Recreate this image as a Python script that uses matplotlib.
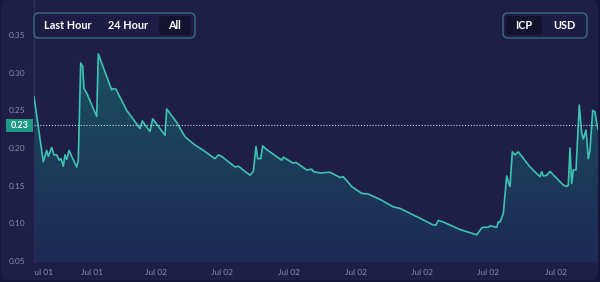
import numpy as np
import matplotlib
matplotlib.use('Agg')
import matplotlib.pyplot as plt
from matplotlib.patches import FancyBboxPatch, Rectangle
from matplotlib.transforms import IdentityTransform, Bbox
from matplotlib.colors import LinearSegmentedColormap

# price history (time in chart units, ICP price)
t = [0, 9.3, 12.7, 14.3, 17.7, 20, 22.7, 25.3, 27, 29.3, 31, 32.7, 35, 37.7, 42.7, 44.3,
     46.7, 48.7, 50, 52.7, 62.7, 64.3, 77.7, 79.3, 82, 92.7, 106, 108.3, 111, 116, 118.7,
     131, 132.7, 142.7, 151, 161, 166, 169.3, 181, 184.3, 187.7, 201, 204.3, 216, 219.3,
     222, 223.7, 226.7, 228.7, 232.7, 247.7, 249.3, 259.3, 262, 272.7, 277.7, 279.3, 286,
     296, 306, 309.3, 317.7, 327.7, 334.3, 346, 359.3, 366, 386, 399.3, 402, 404.3, 409.3,
     422.7, 426, 442.7, 447.7, 449.3, 454.3, 456, 462.7, 464.3, 466, 469.3, 472.7, 474.3,
     476, 478.3, 481, 484.3, 496, 506, 507.7, 509.3, 512.7, 516, 529.3, 532.7, 534.3, 536,
     537.7, 539.3, 542, 545.3, 547.7, 549.3, 552, 554.3, 556, 558.7, 561, 562.7, 564]
price = [0.268, 0.182, 0.197, 0.189, 0.201, 0.191, 0.191, 0.184, 0.186, 0.176, 0.191, 0.185,
         0.197, 0.189, 0.175, 0.184, 0.313, 0.308, 0.279, 0.273, 0.242, 0.325, 0.277, 0.279,
         0.278, 0.250, 0.226, 0.236, 0.231, 0.222, 0.239, 0.217, 0.252, 0.234, 0.215, 0.204,
         0.200, 0.197, 0.186, 0.191, 0.189, 0.175, 0.176, 0.164, 0.169, 0.202, 0.186, 0.186,
         0.203, 0.198, 0.184, 0.188, 0.180, 0.181, 0.171, 0.172, 0.169, 0.167, 0.168, 0.161,
         0.162, 0.149, 0.140, 0.139, 0.132, 0.122, 0.120, 0.107, 0.098, 0.098, 0.104, 0.102,
         0.094, 0.092, 0.085, 0.094, 0.095, 0.095, 0.097, 0.095, 0.102, 0.102, 0.113, 0.163,
         0.155, 0.149, 0.195, 0.191, 0.195, 0.175, 0.162, 0.169, 0.163, 0.164, 0.169, 0.151,
         0.149, 0.151, 0.200, 0.153, 0.171, 0.171, 0.257, 0.220, 0.212, 0.224, 0.186, 0.197,
         0.250, 0.248, 0.233, 0.225]
current = 0.23
yticks = [0.05, 0.10, 0.15, 0.20, 0.25, 0.30, 0.35]
xtick_pos = [8, 58, 122, 188, 255, 322, 388, 454, 522]
xtick_labels = ['Jul 01', 'Jul 01', 'Jul 02', 'Jul 02', 'Jul 02', 'Jul 02', 'Jul 02', 'Jul 02', 'Jul 02']
range_buttons = ['Last Hour', '24 Hour', 'All']
unit_buttons = ['ICP', 'USD']

W, H = 600, 282
OUTER = '#16163a'
PANEL = '#1e1e47'
LINE = '#3cc3b3'
TICK = '#8a8caa'

plt.rcParams['font.family'] = ['Lato', 'DejaVu Sans']

fig = plt.figure(figsize=(W / 100, H / 100), dpi=100, facecolor=OUTER)
px = IdentityTransform()

def box(x0, y0, x1, y1, **kw):
    # image pixel coords (top-left origin) -> display
    return FancyBboxPatch((x0, H - y1), x1 - x0, y1 - y0, transform=px, **kw)

fig.patches.append(box(1, 0, 598, 280, boxstyle='round,pad=0,rounding_size=8',
                       facecolor=PANEL, edgecolor='none', zorder=-5))

ax = fig.add_axes([34 / W, (H - 262) / H, 564 / W, 262 / H])
ax.set_zorder(1)
ax.set_facecolor('none')
ylo, yhi = 0.35 - 227 / 754, 0.35 + 35 / 754

# gradient area under the line
cmap = LinearSegmentedColormap.from_list('area', ['#1d2a54', '#1b5060'])
grad = np.linspace(0, 1, 256).reshape(-1, 1)
im = ax.imshow(grad, aspect='auto', cmap=cmap, origin='lower',
               extent=[0, 564, ylo, 0.33], zorder=1)
poly = ax.fill_between(t, price, ylo, color='none', lw=0)
im.set_clip_path(poly.get_paths()[0], transform=ax.transData)
ax.set_xlim(0, 564)
ax.set_ylim(ylo, yhi)

ax.plot(t, price, color=LINE, lw=1.2, zorder=3)
ax.axhline(current, color='#c9d2e3', lw=0.8, ls=(0, (1, 1.6)), zorder=4)

for s in ['top', 'right', 'bottom']:
    ax.spines[s].set_visible(False)
ax.spines['left'].set_color('#2c2e5e')
ax.spines['left'].set_linewidth(1)

ax.set_yticks(yticks, [f'{v:.2f}' for v in yticks])
ax.set_xticks(xtick_pos, xtick_labels)
ax.tick_params(axis='y', length=0, pad=6, labelsize=6, labelcolor=TICK)
ax.tick_params(axis='x', length=0, pad=5, labelsize=6, labelcolor=TICK)
# first date label is cut off by the price axis
first = ax.get_xticklabels()[0]
first.set_clip_box(Bbox.from_extents(35, 0, W, H))
first.set_clip_on(True)

# current price tag
fig.patches.append(Rectangle((6, H - 132), 27, 13, transform=px,
                             facecolor='#1d9a86', edgecolor='none', zorder=5))
fig.text(19.5 / W, (H - 125.5) / H, f'{current:.2f}', color='white', fontsize=6.5,
         fontweight='bold', ha='center', va='center', zorder=6)

# button groups
fig.patches.append(box(34, 13, 195, 38, boxstyle='round,pad=0,rounding_size=5',
                       facecolor='#1c1c44', edgecolor='#3c6d85', lw=1, zorder=5))
fig.patches.append(box(159, 16, 191, 35, boxstyle='round,pad=0,rounding_size=4',
                       facecolor='#13132f', edgecolor='none', zorder=6))
for label, cx in zip(range_buttons, [67.5, 128, 174]):
    fig.text(cx / W, (H - 25.5) / H, label, color='white', fontsize=7.8,
             fontweight='bold', ha='center', va='center', zorder=7)

fig.patches.append(box(503, 13, 587, 38, boxstyle='round,pad=0,rounding_size=5',
                       facecolor='#1c1c44', edgecolor='#3c6d85', lw=1, zorder=5))
fig.patches.append(box(506, 16, 542, 35, boxstyle='round,pad=0,rounding_size=4',
                       facecolor='#13132f', edgecolor='none', zorder=6))
for label, cx in zip(unit_buttons, [524, 564]):
    fig.text(cx / W, (H - 25.5) / H, label, color='white', fontsize=7.8,
             fontweight='bold', ha='center', va='center', zorder=7)

fig.savefig('out.png', dpi=100, facecolor=OUTER)
